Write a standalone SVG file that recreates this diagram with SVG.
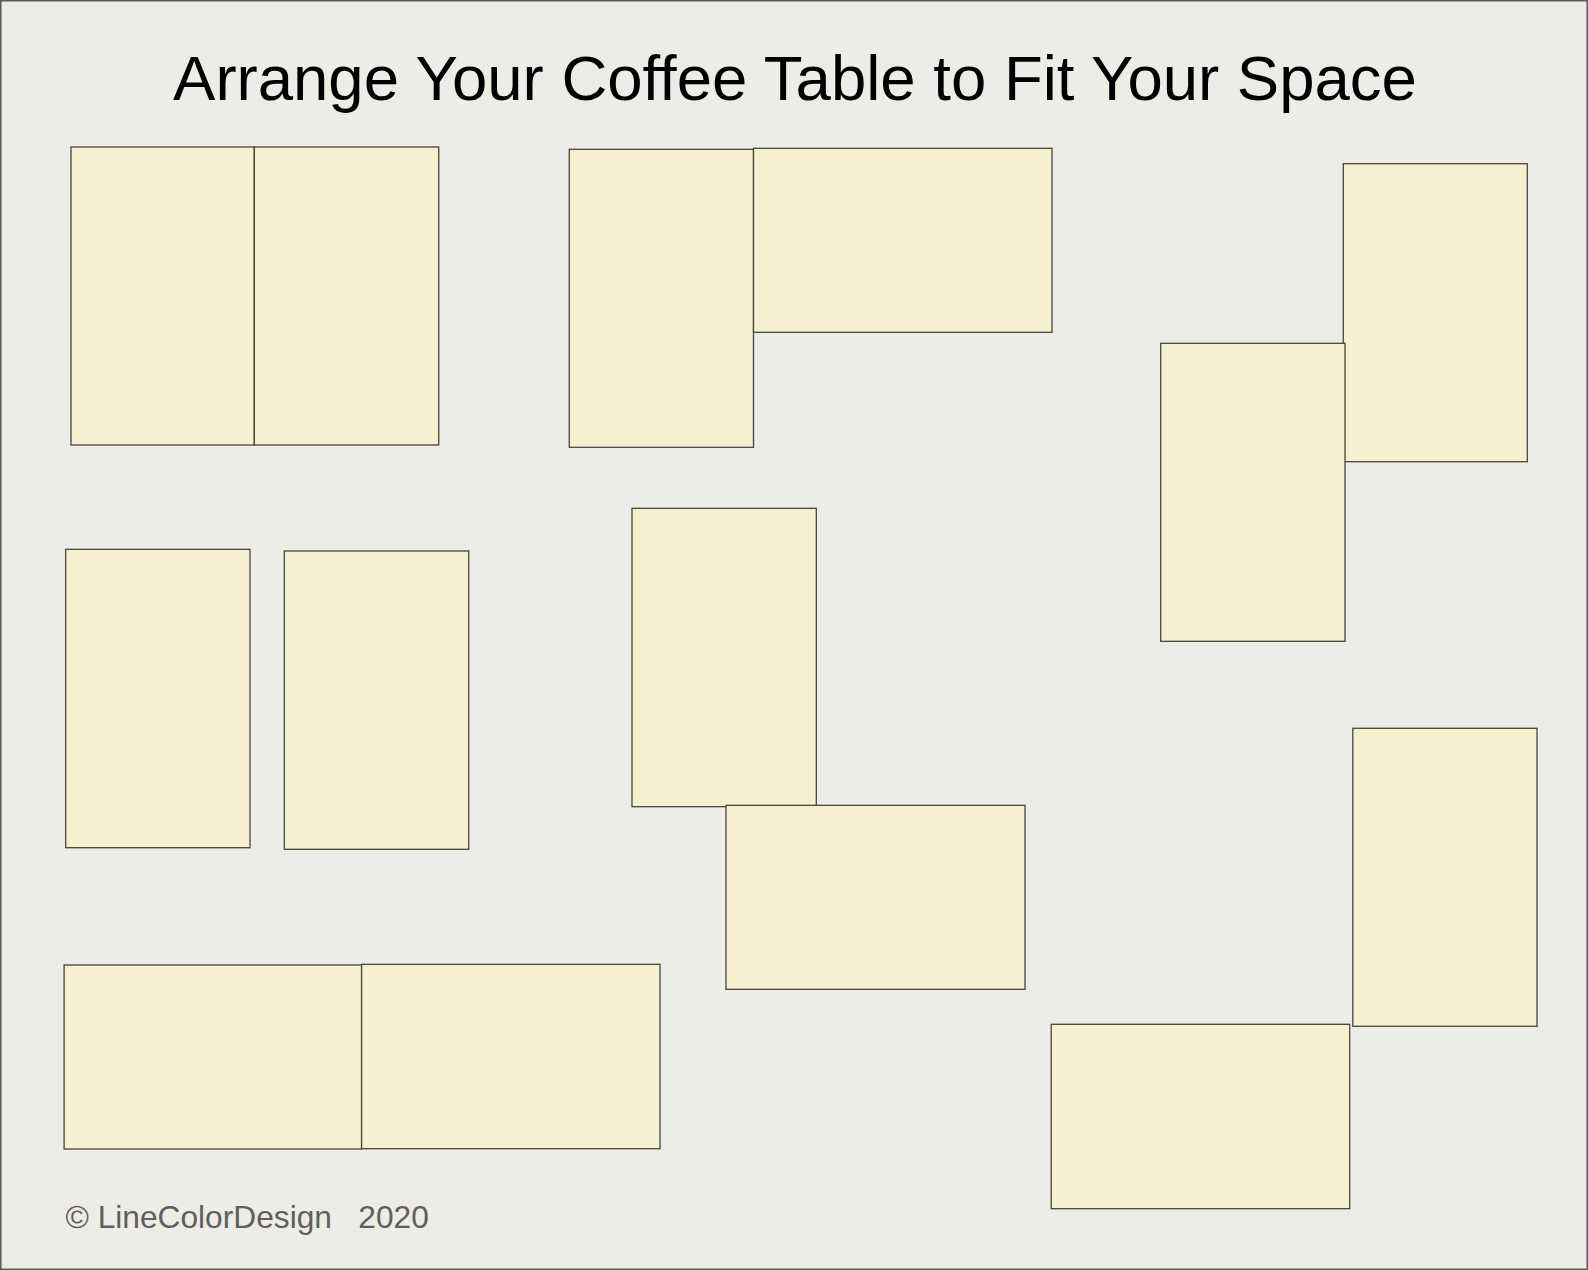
<svg xmlns="http://www.w3.org/2000/svg" width="1588" height="1270" viewBox="0 0 1588 1270">
  <style>
    .bg { fill: #EDECE7; stroke: #5a5a5a; stroke-width: 1.5; }
    .tbl { fill: #F6F0CF; stroke: #45453f; stroke-width: 1.3; }
    .title { font-family: "Liberation Sans", Arial, sans-serif; font-size: 63.5px; fill: #000000; }
    .foot { font-family: "Liberation Sans", Arial, sans-serif; font-size: 31.7px; fill: #5f5f5f; }
  </style>
  <rect class="bg" x="0.75" y="0.75" width="1586.5" height="1268.5"/>
  <text class="title" x="795" y="100" text-anchor="middle">Arrange Your Coffee Table to Fit Your Space</text>

  <g id="layout-1">
    <g id="table-1a"><rect class="tbl" x="71" y="147" width="183.3" height="298"/></g>
    <g id="table-1b"><rect class="tbl" x="254.3" y="147" width="184.4" height="298"/></g>
  </g>
  <g id="layout-2">
    <g id="table-2a"><rect class="tbl" x="569.3" y="149.3" width="184.2" height="298"/></g>
    <g id="table-2b"><rect class="tbl" x="753.5" y="148.3" width="298.5" height="184"/></g>
  </g>
  <g id="layout-3">
    <g id="table-3a"><rect class="tbl" x="1343.3" y="163.7" width="184" height="298"/></g>
    <g id="table-3b"><rect class="tbl" x="1160.7" y="343.3" width="184.3" height="298"/></g>
  </g>
  <g id="layout-4">
    <g id="table-4a"><rect class="tbl" x="65.7" y="549.3" width="184.3" height="298.4"/></g>
    <g id="table-4b"><rect class="tbl" x="284.3" y="551" width="184.4" height="298.3"/></g>
  </g>
  <g id="layout-5">
    <g id="table-5a"><rect class="tbl" x="632" y="508.3" width="184.3" height="298.4"/></g>
    <g id="table-5b"><rect class="tbl" x="726" y="805.3" width="299" height="184"/></g>
  </g>
  <g id="layout-6">
    <g id="table-6a"><rect class="tbl" x="64.1" y="965" width="297.5" height="184"/></g>
    <g id="table-6b"><rect class="tbl" x="361.6" y="964.3" width="298.4" height="184.4"/></g>
  </g>
  <g id="layout-7">
    <g id="table-7a"><rect class="tbl" x="1352.8" y="728.3" width="184.2" height="298"/></g>
    <g id="table-7b"><rect class="tbl" x="1051.2" y="1024.3" width="298.5" height="184.4"/></g>
  </g>
  <g id="connectors"/>

  <text class="foot" x="65.5" y="1228.3" xml:space="preserve">© LineColorDesign   2020</text>
</svg>
